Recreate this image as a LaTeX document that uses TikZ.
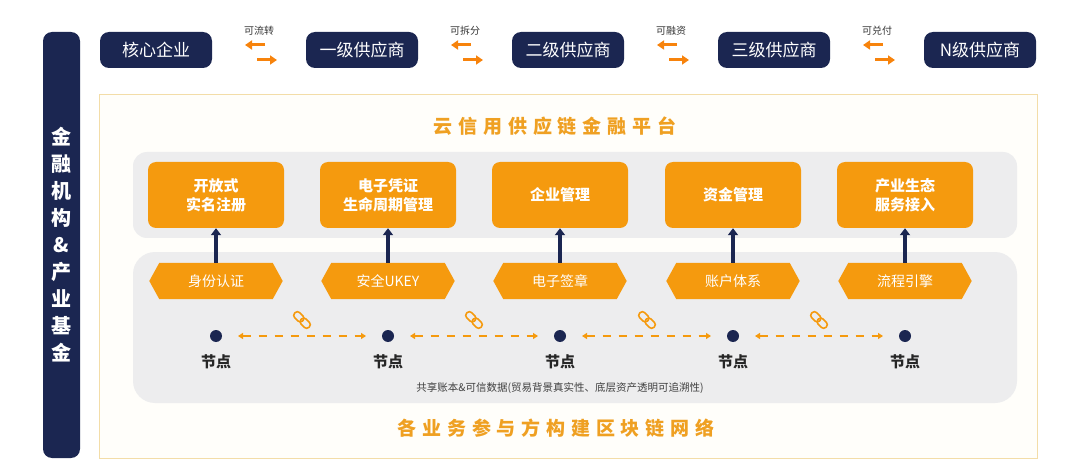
\documentclass[tikz,border=0pt]{standalone}
\usepackage{fontspec}
\setmainfont{Noto Sans CJK SC}
\usetikzlibrary{arrows.meta,calc}
\definecolor{navy}{HTML}{1B2651}
\definecolor{org}{HTML}{F59A0E}
\definecolor{ttl}{HTML}{EFA022}
\definecolor{panel}{HTML}{EDEDEE}
\definecolor{frame}{HTML}{F3DDA8}
\definecolor{cream}{HTML}{FFFEFA}
\newcommand{\gp}{\hspace{5.8pt}}
\tikzset{
 topbox/.style={fill=navy,rounded corners=9pt,minimum width=112pt,minimum height=36pt,text=white,font=\fontsize{17}{17}\selectfont,inner sep=0},
 fbox/.style={fill=org,rounded corners=8pt,minimum width=136pt,minimum height=66pt,text=white,font=\fontsize{15}{19}\selectfont\bfseries,align=center,inner sep=0},
 hexlbl/.style={minimum width=133pt,minimum height=36pt,text=white,font=\fontsize{14}{14}\selectfont,inner sep=0},
 dot/.style={circle,fill=navy,minimum size=12pt,inner sep=0},
 nlbl/.style={font=\fontsize{15}{15}\selectfont\bfseries,text=black!85},
 small/.style={font=\fontsize{10.5}{10.5}\selectfont,text=black!75},
 up/.style={navy,line width=3.5pt,-{Triangle[length=7pt,width=10pt]}},
 dsh/.style={org,line width=1.6pt,dash pattern=on 8pt off 8pt,{Triangle[length=5pt,width=6pt]}-{Triangle[length=5pt,width=6pt]}},
 oarr/.style={org!85!red,line width=3pt,-{Triangle[length=7pt,width=9pt]}},
 ttlf/.style={font=\fontsize{19}{19}\selectfont\bfseries,text=ttl},
}
\begin{document}
\begin{tikzpicture}[x=1pt,y=-1pt]
\useasboundingbox (0,0) rectangle (1080,476);
\node[fill=navy,rounded corners=9pt,minimum width=37pt,minimum height=426pt,inner sep=0] (bar) at (61.5,245) {};
\node[text=white,font=\fontsize{20}{27}\selectfont\bfseries,align=center] (bartxt) at (61.5,245) {金\\融\\机\\构\\\&\\产\\业\\基\\金};
\foreach \i/\x/\t in {1/156/核心企业,2/362/一级供应商,3/568/二级供应商,4/774/三级供应商,5/980/N级供应商}
  \node[topbox] (t\i) at (\x,50) {\t};
\foreach \i/\x/\t in {1/259/可流转,2/465/可拆分,3/671/可融资,4/877/可兑付}{
  \node[font=\fontsize{10}{10}\selectfont,text=black!80] (lab\i) at (\x,31) {\t};
  \coordinate (la\i) at (\x+6,45); \coordinate (lb\i) at (\x-14,45);
  \coordinate (ra\i) at (\x-2,60); \coordinate (rb\i) at (\x+18,60);
  \draw[oarr] (la\i) -- (lb\i);
  \draw[oarr] (ra\i) -- (rb\i);
}
\draw[frame,fill=cream,line width=0.8pt] (99,94) rectangle (1037,458);
\node[ttlf] (title) at (555,126) {云\gp 信\gp 用\gp 供\gp 应\gp 链\gp 金\gp 融\gp 平\gp 台};
\fill[panel,rounded corners=14pt] (133,152) rectangle (1017,238);
\fill[panel,rounded corners=22pt] (133,252) rectangle (1017,403);
\foreach \i/\x/\t in {1/216/{开放式\\实名注册},2/388/{电子凭证\\生命周期管理},3/560/企业管理,4/733/资金管理,5/905/{产业生态\\服务接入}}
  \node[fbox] (f\i) at (\x,195) {\t};
\foreach \i/\x/\t in {1/216/身份认证,2/388/安全UKEY,3/560/电子签章,4/733/账户体系,5/905/流程引擎}{
  \node[hexlbl] (h\i) at (\x,281) {};
  \fill[org] (h\i.west) -- ([xshift=10pt]h\i.north west) -- ([xshift=-10pt]h\i.north east) -- (h\i.east) -- ([xshift=-10pt]h\i.south east) -- ([xshift=10pt]h\i.south west) -- cycle;
  \node[hexlbl] at (h\i) {\t};
  \draw[up] (h\i.north) -- (f\i.south);
  \node[dot] (d\i) at (\x,336) {};
  \node[nlbl] (n\i) at (\x,362) {节点};
}
\foreach \a/\b in {1/2,2/3,3/4,4/5}
  \draw[dsh] ([xshift=22pt]d\a.center) -- ([xshift=-22pt]d\b.center);
\foreach \x in {302,474,647,819}{
  \begin{scope}[shift={(\x,320)},rotate=-45]
  \draw[org,line width=1.6pt,rounded corners=3pt] (-10,-3.5) rectangle (1,3.5);
  \draw[org,line width=1.6pt,rounded corners=3pt] (-1,-3.5) rectangle (10,3.5);
  \end{scope}
}
\node[small] (note) at (560,388) {共享账本\&可信数据(贸易背景真实性、底层资产透明可追溯性)};
\node[ttlf] (btitle) at (556,428) {各\gp 业\gp 务\gp 参\gp 与\gp 方\gp 构\gp 建\gp 区\gp 块\gp 链\gp 网\gp 络};
\end{tikzpicture}
\end{document}
